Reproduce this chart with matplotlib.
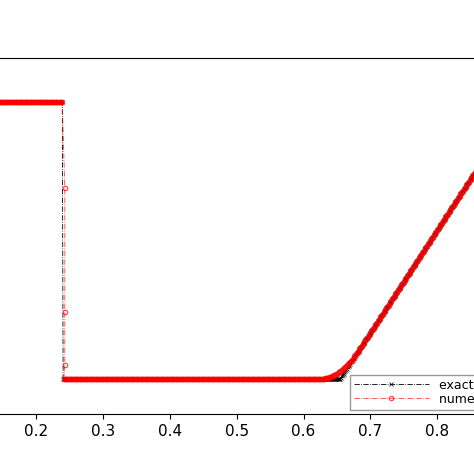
import numpy as np
import matplotlib.pyplot as plt

# grid and solution parameters
x = np.linspace(0, 1, 801)
x_shock = 0.24
x_foot_exact = 0.655
x_foot_num = 0.625
slope = 3.7
u_left = 1.0
u_right = 0.0
shock_x = [0.2425, 0.2425, 0.2425]
shock_u = [0.69, 0.24, 0.05]

u_exact = np.where(x < x_shock, u_left, np.maximum(u_right, slope * (x - x_foot_exact)))

# numerical: smoothed corner at the foot of the ramp
m = (x > x_foot_num) & (x < x_foot_exact + 0.03)
t = (x - x_foot_num) / (x_foot_exact + 0.03 - x_foot_num)
u_num = np.where(m, np.maximum(slope * 0.03 * t ** 2, u_exact), u_exact)
xn = np.concatenate([x[x < x_shock], shock_x, x[x > x_shock]])
un = np.concatenate([u_num[x < x_shock], shock_u, u_num[x > x_shock]])

fig = plt.figure(figsize=(4.74, 4.74), dpi=100)
ax = fig.add_axes([-0.205, 0.127, 1.409, 0.751])
ax.plot(x, u_exact, 'k-.x', lw=0.6, ms=3, mew=0.5, label='exact solution')
ax.plot(xn, un, 'r-.o', lw=0.6, ms=3.2, mew=0.8, mfc='none', alpha=0.75, label='numerical solution')
ax.set_xlim(0, 1)
ax.set_ylim(-0.126, 1.159)
ax.set_xticks(np.arange(0, 1.01, 0.1))
ax.set_yticks([])
ax.tick_params(labelsize=11)
ax.legend(loc='lower right', bbox_to_anchor=(0.985, 0.005), fontsize=9, fancybox=False,
          edgecolor='gray', borderaxespad=0.2, handlelength=6, labelspacing=0.1,
          borderpad=0.3, markerfirst=True)
fig.savefig('out.png', dpi=100)
